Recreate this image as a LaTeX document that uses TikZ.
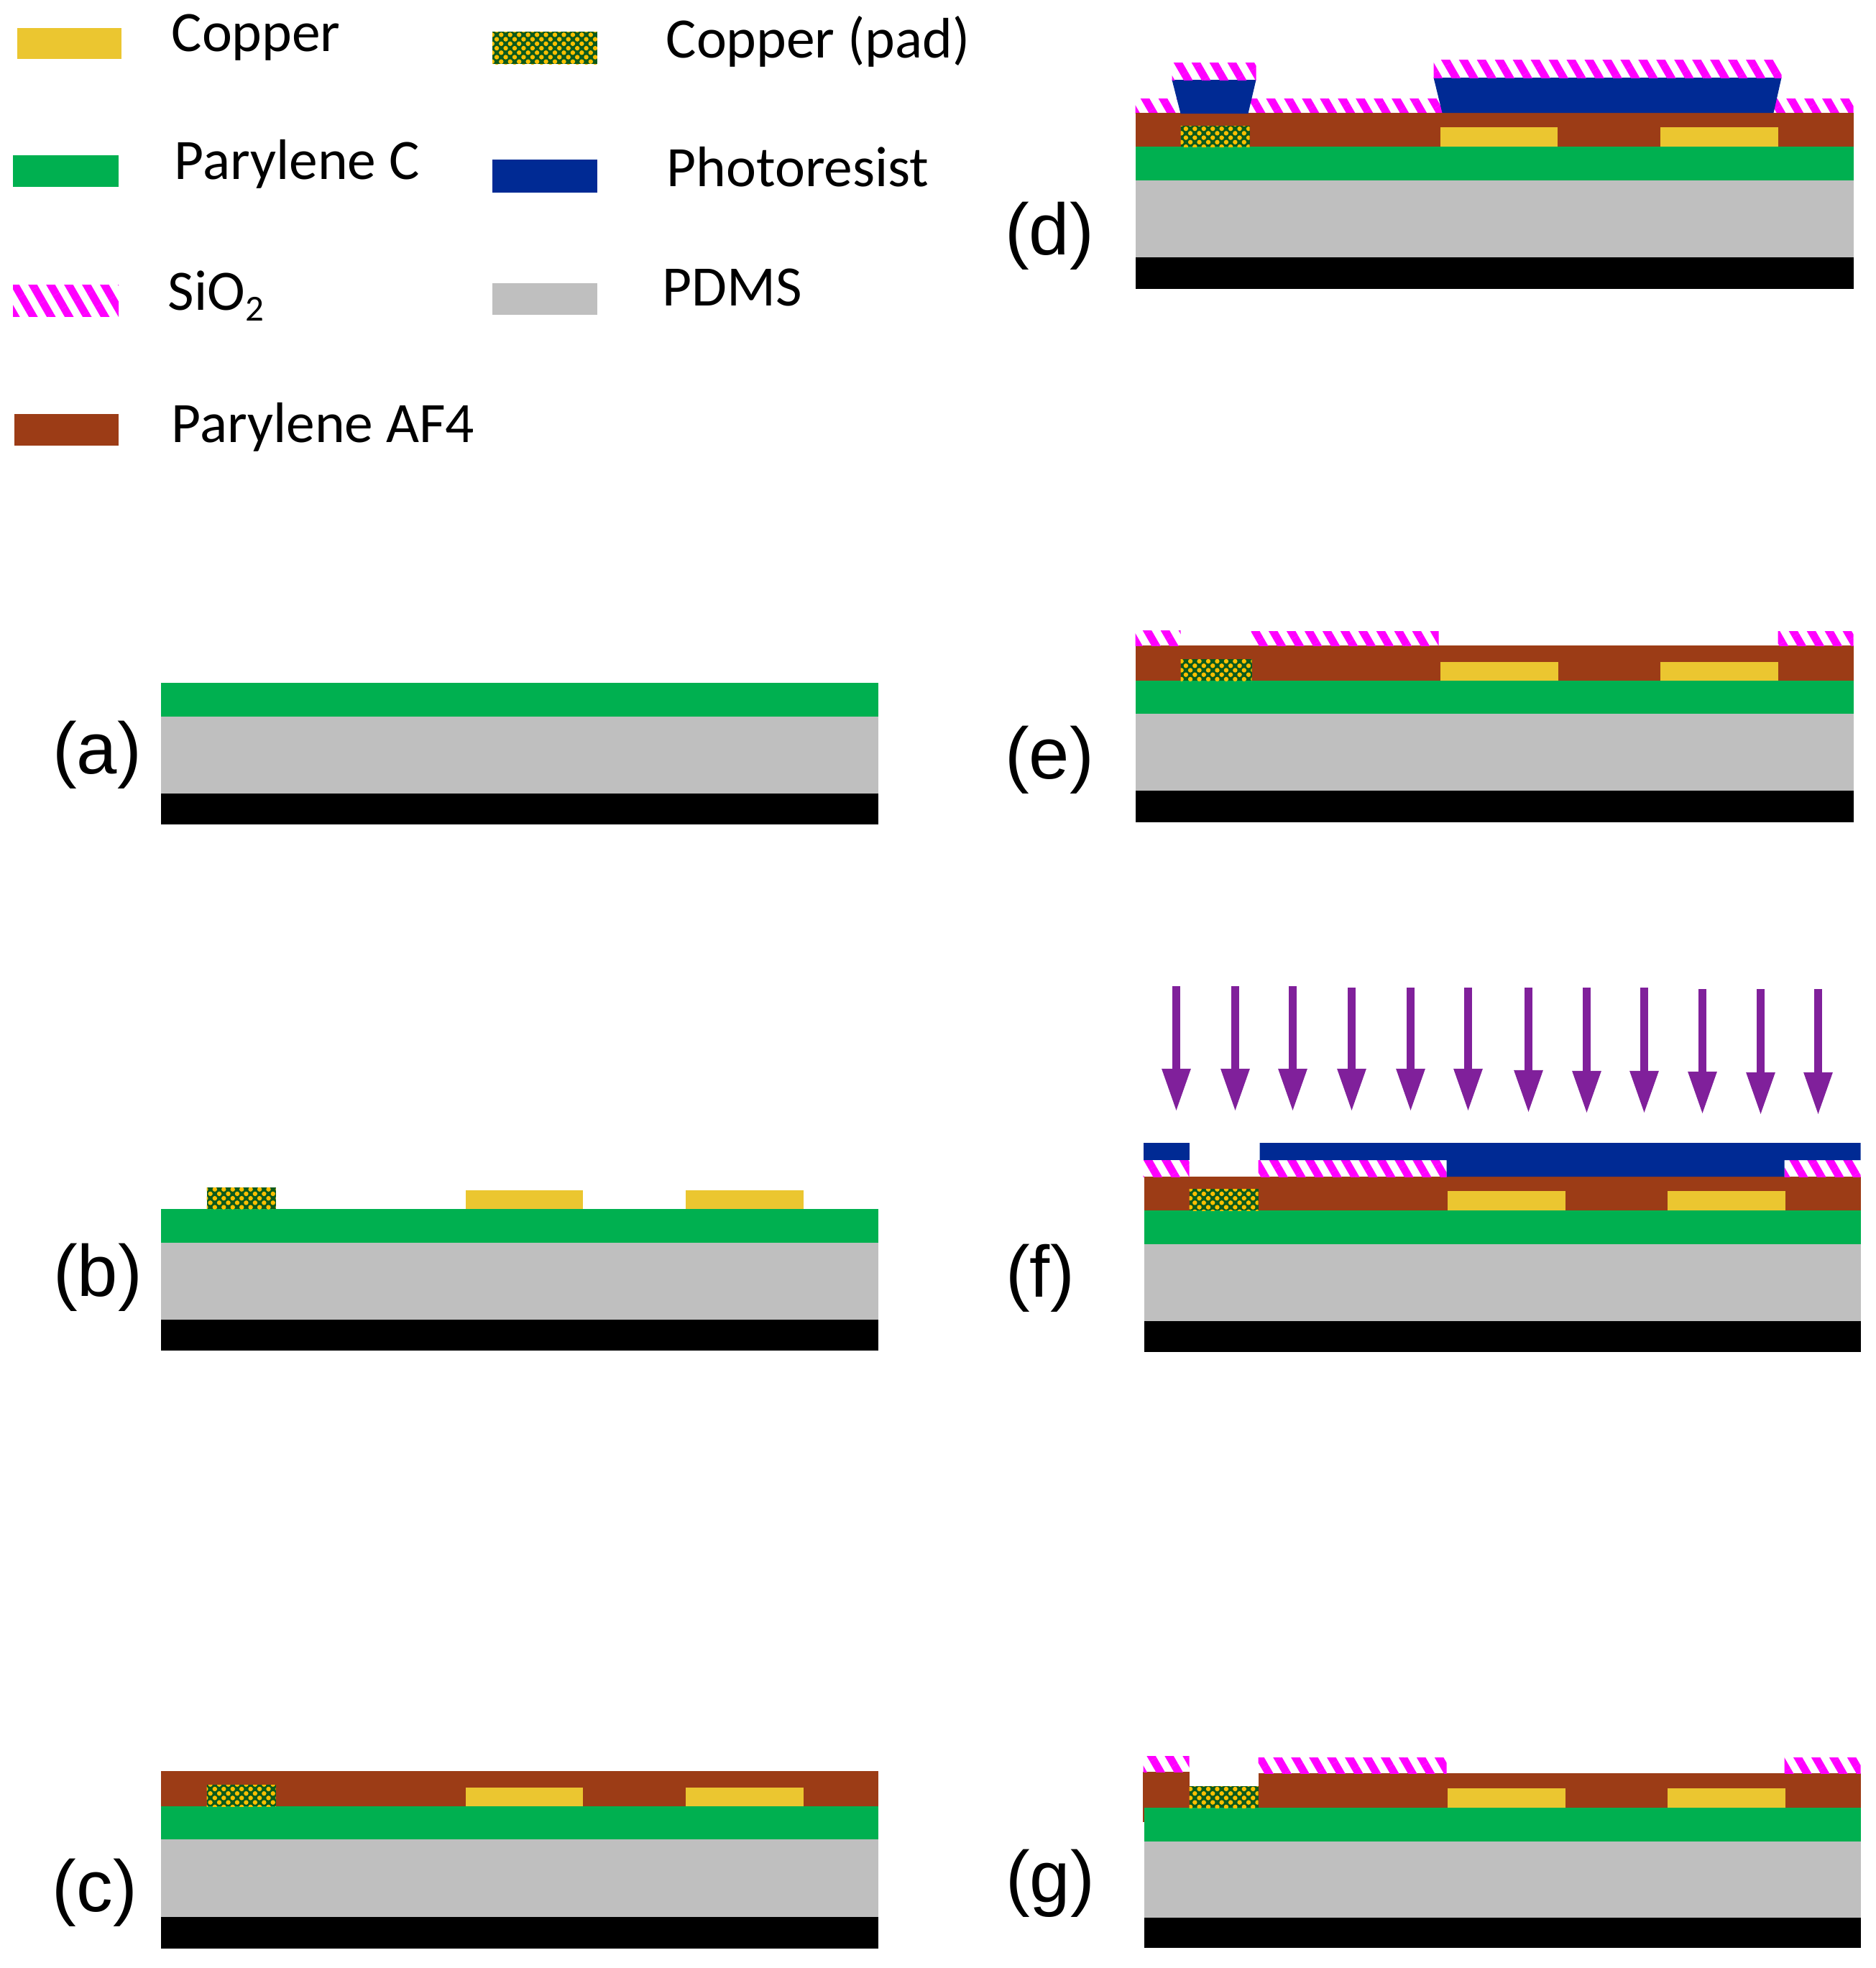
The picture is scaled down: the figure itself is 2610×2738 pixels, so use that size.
\documentclass[tikz,border=0pt]{standalone}
\usepackage{fontspec}
\setmainfont{Carlito}
\newfontfamily\labelfont{Liberation Sans}
\usepackage{xcolor}
\usepackage{tikz}
\usetikzlibrary{arrows.meta, patterns.meta}
\definecolor{mycopper}{RGB}{235,198,48}
\definecolor{mypc}{RGB}{0,176,80}
\definecolor{myaf}{RGB}{156,60,22}
\definecolor{myresist}{RGB}{0,42,148}
\definecolor{mypdms}{RGB}{191,191,191}
\definecolor{mysio}{RGB}{255,0,255}
\definecolor{mypadgreen}{RGB}{12,90,28}
\definecolor{mypadgold}{RGB}{255,192,0}
\definecolor{myuv}{RGB}{128,32,155}
\tikzset{
  cufill/.style={fill=mycopper},
  pcfill/.style={fill=mypc},
  affill/.style={fill=myaf},
  resistfill/.style={fill=myresist},
  pdmsfill/.style={fill=mypdms},
  backfill/.style={fill=black},
  siofill/.style={pattern={Lines[angle=-60, distance=0.216cm, line width=0.108cm]}, pattern color=mysio},
  padfill/.style={preaction={fill=mypadgreen}, pattern={Dots[angle=45, distance=0.088cm, radius=0.032cm]}, pattern color=mypadgold},
  legtext/.style={anchor=base west, inner sep=0pt, font=\fontsize{22.6pt}{26pt}\selectfont},
  panellabel/.style={inner sep=0pt, font=\labelfont\fontsize{28.8pt}{32pt}\selectfont},
  uvarrow/.style={-{Triangle[length=0.6cm, width=0.37cm]}, line width=0.115cm, color=myuv, shorten >=-0.04cm}
}

\begin{document}
\begin{tikzpicture}[x=0.01cm, y=-0.01cm]
  \useasboundingbox (0,0) rectangle (2610,2738);

  % Legend swatches
  \fill[cufill] (24,39) rectangle (169,82);
  \fill[pcfill] (18,216) rectangle (165,260);
  \fill[siofill] (18,396) rectangle (165,440);
  \fill[affill] (20,576) rectangle (165,620);
  \fill[padfill] (685,44) rectangle (831,89);
  \fill[resistfill] (685,222) rectangle (831,268);
  \fill[pdmsfill] (685,394) rectangle (831,438);

  % Legend texts
  \node[legtext] (lcu) at (238,71) {Copper};
  \node[legtext] (lpc) at (242,249) {Parylene C};
  \node[legtext] (lsio) at (233,431) {SiO\raisebox{-4.5pt}{\fontsize{14.5pt}{16pt}\selectfont 2}};
  \node[legtext] (laf) at (238,615) {Parylene AF4};
  \node[legtext] (lpad) at (926,80) {Copper (pad)};
  \node[legtext] (lresist) at (927,259) {Photoresist};
  \node[legtext] (lpdms) at (921,425) {PDMS};

  % Panel labels
  \node[panellabel] (pa) at (135,1050) {(a)};
  \node[panellabel] (pb) at (136,1777) {(b)};
  \node[panellabel] (pc) at (132,2633) {(c)};
  \node[panellabel] (pd) at (1460,328) {(d)};
  \node[panellabel] (pe) at (1460,1057) {(e)};
  \node[panellabel] (pf) at (1447,1778) {(f)};
  \node[panellabel] (pg) at (1461,2620) {(g)};

  \begin{scope}[xshift=0.015cm]
  % Sliver of (g) under the Parylene C
  \fill[affill] (1588,2465) rectangle (1653,2535);

  % Parylene C, PDMS and backing of every panel
  \foreach \xl/\xr/\ya/\yb/\yc/\yd in {
    222/1220/950/997/1104/1147,
    222/1220/1682/1729/1836/1879,
    222/1220/2513/2559/2667/2711,
    1578/2577/204/251/358/402,
    1578/2577/947/993/1100/1144,
    1590/2587/1684/1731/1838/1881,
    1590/2587/2515/2562/2668/2710} {
    \fill[pcfill] (\xl,\ya) rectangle (\xr,\yb);
    \fill[pdmsfill] (\xl,\yb) rectangle (\xr,\yc);
    \fill[backfill] (\xl,\yc) rectangle (\xr,\yd);
  }

  % (b) metal on Parylene C
  \fill[padfill] (286,1652) rectangle (382,1682);
  \fill[cufill] (646,1656) rectangle (809,1682);
  \fill[cufill] (952,1656) rectangle (1116,1682);

  % (c) Parylene AF4 over the metal
  \fill[affill] (222,2464) rectangle (1220,2513);
  \fill[padfill] (286,2483) rectangle (382,2513);
  \fill[cufill] (646,2487) rectangle (809,2513);
  \fill[cufill] (952,2487) rectangle (1116,2513);

  % (d) patterned resist, SiO2 over everything
  \fill[siofill] (1578,137) rectangle (2577,157);
  \fill[affill] (1578,157) rectangle (2577,204);
  \fill[padfill] (1641,175) rectangle (1737,204);
  \fill[cufill] (2002,177) rectangle (2165,204);
  \fill[cufill] (2308,177) rectangle (2472,204);
  \fill[resistfill] (1629,111) -- (1746,111) -- (1735,158) -- (1641,158) -- cycle;
  \fill[resistfill] (1993,108) -- (2477,108) -- (2466,157) -- (2005,157) -- cycle;
  \fill[siofill] (1629,87) rectangle (1746,111);
  \fill[siofill] (1993,83) rectangle (2477,108);

  % (e) after lift-off
  \fill[affill] (1578,898) rectangle (2577,947);
  \fill[padfill] (1641,917) rectangle (1740,947);
  \fill[cufill] (2002,921) rectangle (2166,947);
  \fill[cufill] (2308,921) rectangle (2472,947);
  \fill[siofill] (1578,877) rectangle (1641,898);
  \fill[siofill] (1739,878) rectangle (2000,898);
  \fill[siofill] (2472,878) rectangle (2577,898);

  % (f) second resist and exposure
  \fill[affill] (1590,1637) rectangle (2587,1684);
  \fill[padfill] (1653,1654) rectangle (1749,1684);
  \fill[cufill] (2012,1657) rectangle (2176,1684);
  \fill[cufill] (2318,1657) rectangle (2482,1684);
  \fill[siofill] (1589,1614) rectangle (1653,1637);
  \fill[siofill] (1749,1614) rectangle (2011,1637);
  \fill[siofill] (2481,1614) rectangle (2587,1637);
  \fill[resistfill] (1589,1590) rectangle (1653,1614);
  \fill[resistfill] (1751,1590) -- (2587,1590) -- (2587,1614) -- (2481,1614) -- (2481,1637) -- (2011,1637) -- (2011,1614) -- (1751,1614) -- cycle;

  % UV arrows
  \foreach \i/\xc/\ya/\yb in {1/1635/1372/1543, 2/1717/1372/1543, 3/1797/1372/1543,
    4/1879/1374/1543, 5/1961/1374/1543, 6/2041/1374/1543,
    7/2125/1374/1545, 8/2206/1374/1546, 9/2286/1374/1546,
    10/2367/1376/1547, 11/2448/1376/1548, 12/2528/1376/1548} {
    \coordinate (uvs\i) at (\xc,\ya);
    \coordinate (uve\i) at (\xc,\yb);
    \draw[uvarrow] (uvs\i) -- (uve\i);
  }

  % (g) opened pad
  \fill[affill] (1589,2465) rectangle (1653,2515);
  \fill[affill] (1749,2467) rectangle (2587,2515);
  \fill[padfill] (1653,2485) rectangle (1749,2515);
  \fill[cufill] (2012,2488) rectangle (2176,2515);
  \fill[cufill] (2318,2488) rectangle (2482,2515);
  \fill[siofill] (1589,2443) rectangle (1653,2465);
  \fill[siofill] (1749,2445) rectangle (2011,2467);
  \fill[siofill] (2481,2445) rectangle (2587,2467);
  \end{scope}
\end{tikzpicture}
\end{document}
